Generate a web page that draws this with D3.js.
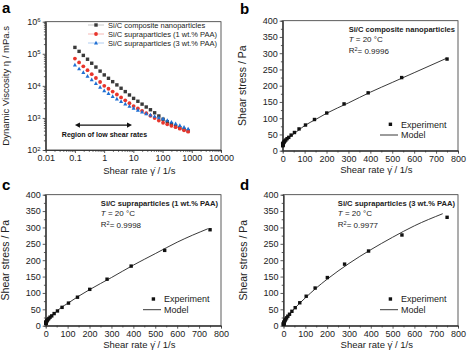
<!DOCTYPE html>
<html><head><meta charset="utf-8">
<script src="https://cdn.jsdelivr.net/npm/d3@7"></script>
<style>
body{margin:0;background:#fff;}
svg{display:block;font-family:"Liberation Sans",Arial,sans-serif;}
</style></head>
<body>
<svg id="c" width="474" height="356"></svg>
<script>
// ---------- DATA ----------
const rateA = [0.1,0.139,0.194,0.270,0.376,0.523,0.728,1.01,1.41,1.96,2.73,3.80,5.29,7.36,10.2,14.3,19.9,27.6,38.5,53.6,74.6,104,145,201,280,390,543,750];
const etaComposite = [158000,119000,89000,67600,50700,38500,28800,21900,17200,13500,10700,8410,6610,5190,4070,3310,2690,2190,1800,1445,1150,912,759,646,556,490,437,394];
const etaPAA1 = [70800,53700,40700,30900,23200,17600,13200,10000,8130,6610,5370,4370,3550,2880,2340,1970,1660,1400,1170,990,830,708,631,569,513,462,412,372];
const etaPAA3 = [44700,33900,26000,19950,15500,11900,9120,7080,5750,4680,3890,3240,2720,2320,2000,1740,1530,1350,1230,1120,1020,944,841,741,661,582,513,457];
const seriesNames = ["Si/C composite nanoparticles","Si/C supraparticles (1 wt.% PAA)","Si/C supraparticles (3 wt.% PAA)"];
const logXTicks = [0.01,0.1,1,10,100,1000,10000];
const logXLabels = ["0.01","0.1","1","10","100","1000","10000"];
const logYTicks = [1e2,1e3,1e4,1e5,1e6];
const arrowRange = [0.1, 9];
const arrowEta = 600;

const stressComposite = [15.5,16,17,17.5,18,19,19.5,20,21,22,23,24.5,26,28,30,33,37,41,48,56,67,79,96,116,144,178,225,282];
const stressPAA1 = [6.8,7,7.3,7.6,8,8.5,9,9.5,10,11,12,13,15,17,19,22,26,30,37,45,56,69,87,111,142,182,230,293];
const stressPAA3 = [4.5,4.7,5,5.3,5.7,6.2,6.8,7.5,8.5,9.5,11,12.5,14.5,17,20,24,29,35,44,55,70,90,115,147,188,228,277,331];

const modelRateB = [0,2,5,10,20,40,70,100,150,200,300,400,500,600,750];
const modelB = [18,22,25,29,35,46,62,77,96,115,147,180,210,240,285];
const modelRateC = [0,2,5,10,20,40,70,100,150,200,300,400,500,600,740];
const modelC = [8,12,15,20,27,38,55,68,90,110,147,185,220,255,296];
const modelRateD = [0,2,5,10,20,40,70,100,150,200,300,400,500,600,730];
const modelD = [8,12,17,22,30,45,66,85,115,142,190,232,270,305,342];

const linXTicks = [0,100,200,300,400,500,600,700,800];
const linYTicks = [0,50,100,150,200,250,300,350,400];
const r2Values = ["0.9996","0.9998","0.9977"];

// ---------- DRAW ----------
const svg = d3.select("#c");
const axisColor = "#333";
const cBlack = "#3a3a3a", cRed = "#e8352c", cBlue = "#1f6fd3";

function styleAxis(g){
  g.selectAll("path").attr("stroke", axisColor).attr("stroke-width",0.8);
  g.selectAll("line").attr("stroke", axisColor).attr("stroke-width",0.8);
  g.selectAll("text").attr("fill","#222").style("font-size","9px");
}

// ---- Panel a ----
(function(){
  const L=45.7,R=221,T=21.7,B=150;
  const x = d3.scaleLog().domain([0.01,10000]).range([L,R]);
  const y = d3.scaleLog().domain([1e2,1e6]).range([B,T]);
  const g = svg.append("g");
  const minorX=[], minorY=[];
  for(let e=-2;e<4;e++) for(let m=2;m<10;m++) minorX.push(m*Math.pow(10,e));
  for(let e=2;e<6;e++) for(let m=2;m<10;m++) minorY.push(m*Math.pow(10,e));
  g.append("g").attr("transform",`translate(0,${B})`)
    .call(d3.axisBottom(x).tickValues(minorX).tickSize(1.8).tickFormat("")).call(styleAxis);
  g.append("g").attr("transform",`translate(${L},0)`)
    .call(d3.axisLeft(y).tickValues(minorY).tickSize(1.8).tickFormat("")).call(styleAxis);
  g.append("g").attr("transform",`translate(0,${B})`)
    .call(d3.axisBottom(x).tickValues(logXTicks).tickSize(3).tickSizeOuter(0).tickPadding(2)
      .tickFormat((d,i)=>logXLabels[i])).call(styleAxis);
  const ay = g.append("g").attr("transform",`translate(${L},0)`)
    .call(d3.axisLeft(y).tickValues(logYTicks).tickSize(3).tickSizeOuter(0).tickPadding(2).tickFormat("")).call(styleAxis);
  ay.selectAll(".tick").append("text").attr("x",-5).attr("dy","0.32em").attr("text-anchor","end")
    .attr("fill","#222").style("font-size","9px")
    .each(function(d){
      const t=d3.select(this);
      t.append("tspan").text("10");
      t.append("tspan").attr("dy","-0.45em").style("font-size","6px").text(Math.round(Math.log10(d)));
    });
  g.append("rect").attr("x",L).attr("y",T).attr("width",R-L).attr("height",B-T)
    .attr("fill","none").attr("stroke",axisColor).attr("stroke-width",0.8);
  const sets=[etaComposite,etaPAA1,etaPAA3];
  const cols=[cBlack,cRed,cBlue];
  function marker(sel,type,col){
    if(type===0) sel.append("rect").attr("x",-1.7).attr("y",-1.7).attr("width",3.4).attr("height",3.4).attr("fill",col);
    else if(type===1) sel.append("circle").attr("r",1.9).attr("fill",col);
    else sel.append("path").attr("d","M0,-2.2L2,1.5L-2,1.5Z").attr("fill",col);
  }
  sets.forEach((s,si)=>{
    g.append("g").selectAll("g").data(s).join("g")
      .attr("transform",(d,i)=>`translate(${x(rateA[i])},${y(d)})`)
      .each(function(){marker(d3.select(this),si,cols[si]);});
  });
  const legCols=["#bbb","#f2a6a2","#9cc0ee"];
  seriesNames.forEach((n,i)=>{
    const yy=25+i*9;
    g.append("line").attr("x1",88).attr("x2",104).attr("y1",yy).attr("y2",yy).attr("stroke",legCols[i]).attr("stroke-width",0.8);
    const m=g.append("g").attr("transform",`translate(96,${yy})`); marker(m,i,cols[i]);
    g.append("text").attr("x",108).attr("y",yy+2.6).style("font-size","7.5px").attr("fill","#222").text(n);
  });
  const ya=y(arrowEta), x1=x(arrowRange[0]), x2=x(arrowRange[1]);
  g.append("line").attr("x1",x1+3).attr("x2",x2-3).attr("y1",ya).attr("y2",ya).attr("stroke","#111").attr("stroke-width",1.3);
  g.append("path").attr("d",`M${x1},${ya}L${x1+5},${ya-2.6}L${x1+5},${ya+2.6}Z`).attr("fill","#111");
  g.append("path").attr("d",`M${x2},${ya}L${x2-5},${ya-2.6}L${x2-5},${ya+2.6}Z`).attr("fill","#111");
  g.append("text").attr("x",(x1+x2)/2+1).attr("y",ya+11.5).attr("text-anchor","middle")
    .style("font-size","7px").style("font-weight","bold").attr("fill","#111").text("Region of low shear rates");
  g.append("text").attr("x",(L+R)/2+6).attr("y",174).attr("text-anchor","middle").style("font-size","9.5px").attr("fill","#222").text("Shear rate γ̇ / 1/s");
  g.append("text").attr("transform",`translate(8.5,${(T+B)/2}) rotate(-90)`).attr("text-anchor","middle").style("font-size","9.5px").attr("fill","#222").text("Dynamic Viscosity η / mPa.s");
  svg.append("text").attr("x",2).attr("y",13).style("font-size","15px").style("font-weight","bold").text("a");
})();

// ---- Panels b, c, d ----
function fitPanel(o){
  const {L,R,T,B,stress,mRate,model,title,r2,letter,lx,ly} = o;
  const x = d3.scaleLinear().domain([0,800]).range([L,R]);
  const y = d3.scaleLinear().domain([0,400]).range([B,T]);
  const g = svg.append("g");
  const minorX=d3.range(50,800,100), minorY=d3.range(25,400,50);
  g.append("g").attr("transform",`translate(0,${B})`)
    .call(d3.axisBottom(x).tickValues(minorX).tickSize(1.8).tickFormat("")).call(styleAxis);
  g.append("g").attr("transform",`translate(${L},0)`)
    .call(d3.axisLeft(y).tickValues(minorY).tickSize(1.8).tickFormat("")).call(styleAxis);
  g.append("g").attr("transform",`translate(0,${B})`)
    .call(d3.axisBottom(x).tickValues(linXTicks).tickSize(3).tickSizeOuter(0).tickPadding(2)).call(styleAxis);
  g.append("g").attr("transform",`translate(${L},0)`)
    .call(d3.axisLeft(y).tickValues(linYTicks).tickSize(3).tickSizeOuter(0).tickPadding(2)).call(styleAxis);
  g.append("rect").attr("x",L).attr("y",T).attr("width",R-L).attr("height",B-T)
    .attr("fill","none").attr("stroke",axisColor).attr("stroke-width",0.8);
  const line = d3.line().curve(d3.curveMonotoneX).x((d,i)=>x(mRate[i])).y(d=>y(d));
  g.append("path").datum(model).attr("d",line).attr("fill","none").attr("stroke","#222").attr("stroke-width",0.9);
  g.append("g").selectAll("rect").data(stress).join("rect")
    .attr("x",(d,i)=>x(rateA[i])-1.7).attr("y",d=>y(d)-1.7).attr("width",3.4).attr("height",3.4).attr("fill","#111");
  const ax0 = R-3;
  const tt = g.append("text").attr("x",ax0).attr("y",T+11.5).attr("text-anchor","end").style("font-size","7.6px").style("font-weight","bold").attr("fill","#222").text(title);
  const startX = ax0 - tt.node().getComputedTextLength();
  const t1 = g.append("text").attr("x",startX).attr("y",T+21.5).style("font-size","8px").attr("fill","#222");
  t1.append("tspan").style("font-style","italic").text("T");
  t1.append("tspan").text(" = 20 °C");
  const t2 = g.append("text").attr("x",startX).attr("y",T+32).style("font-size","8px").attr("fill","#222");
  t2.append("tspan").text("R");
  t2.append("tspan").attr("dy","-0.4em").style("font-size","5.5px").text("2");
  t2.append("tspan").attr("dy","0.4em").text("= "+r2);
  g.append("rect").attr("x",lx+8.7).attr("y",ly-1.7).attr("width",3.4).attr("height",3.4).attr("fill","#111");
  g.append("text").attr("x",lx+21).attr("y",ly+3.2).style("font-size","9px").attr("fill","#222").text("Experiment");
  g.append("line").attr("x1",lx).attr("x2",lx+18).attr("y1",ly+10.7).attr("y2",ly+10.7).attr("stroke","#222").attr("stroke-width",0.9);
  g.append("text").attr("x",lx+21).attr("y",ly+14).style("font-size","9px").attr("fill","#222").text("Model");
  g.append("text").attr("x",(L+R)/2+6).attr("y",B+22.5).attr("text-anchor","middle").style("font-size","9.5px").attr("fill","#222").text("Shear rate γ̇ / 1/s");
  g.append("text").attr("transform",`translate(${L-36.3},${(T+B)/2}) rotate(-90)`).attr("text-anchor","middle").style("font-size","10.5px").attr("fill","#222").text("Shear stress / Pa");
  svg.append("text").attr("x",letter[0]).attr("y",letter[1]).style("font-size","15px").style("font-weight","bold").text(letter[2]);
}
fitPanel({L:282.7,R:458,T:20.7,B:150.7,stress:stressComposite,mRate:modelRateB,model:modelB,title:seriesNames[0],r2:r2Values[0],letter:[240,14,"b"],lx:380,ly:124.3});
fitPanel({L:45.7,R:221,T:194.7,B:325.7,stress:stressPAA1,mRate:modelRateC,model:modelC,title:seriesNames[1],r2:r2Values[1],letter:[2,190,"c"],lx:143,ly:299});
fitPanel({L:283.5,R:458,T:194.7,B:325.7,stress:stressPAA3,mRate:modelRateD,model:modelD,title:seriesNames[2],r2:r2Values[2],letter:[240,190,"d"],lx:380,ly:299});
</script>
</body></html>
